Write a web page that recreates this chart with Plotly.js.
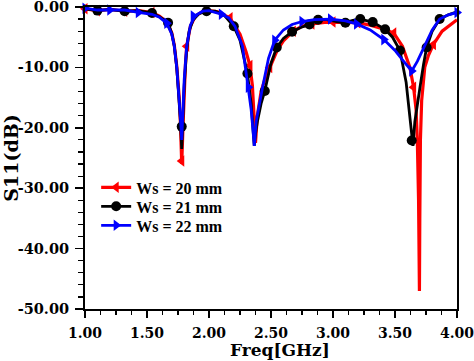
<!DOCTYPE html>
<html>
<head>
<meta charset="utf-8">
<script src="https://cdn.plot.ly/plotly-3.0.1.min.js"></script>
<style>
  html, body { margin: 0; padding: 0; background: #fff; }
  #chart { width: 474px; height: 361px; }
</style>
</head>
<body>
<div id="chart"></div>
<script>
// ---------- data ----------
const seriesNames = ["Ws = 20 mm", "Ws = 21 mm", "Ws = 22 mm"];

// Ws = 20 mm (red) full curve
const freq20 = [1.00,1.10,1.20,1.32,1.43,1.54,1.60,1.66,1.70,1.72,1.74,1.76,1.77,1.78,1.79,1.80,1.81,1.82,1.85,1.89,1.95,2.00,2.07,2.17,2.25,2.30,2.33,2.35,2.365,2.375,2.39,2.42,2.45,2.49,2.55,2.60,2.68,2.75,2.83,2.95,3.05,3.20,3.30,3.40,3.49,3.56,3.62,3.65,3.67,3.68,3.69,3.697,3.70,3.705,3.715,3.74,3.77,3.81,3.88,3.94,4.00];
const s11_20 = [-0.3,-0.6,-0.4,-0.7,-0.6,-0.9,-1.5,-2.5,-4.3,-6.3,-9.8,-15,-19.5,-26,-20,-14,-9.5,-6.5,-3.2,-1.5,-0.7,-0.6,-0.8,-1.8,-4.5,-7.5,-9.7,-13,-18,-22.5,-18,-14,-12,-10,-7.2,-5.6,-4.0,-3.2,-2.8,-2.5,-2.5,-2.6,-3.0,-3.6,-4.3,-6.5,-10,-13.3,-17,-22,-32,-47,-35,-22,-15.5,-10,-8,-6.2,-4,-3.1,-2.1];
// Ws = 20 mm markers
const mkFreq20 = [1.00,1.10,1.32,1.54,1.78,1.82,2.17,2.33,2.49,2.68,2.83,3.00,3.20,3.49,3.65,3.81];
const mkS11_20 = [-0.3,-0.6,-0.7,-0.9,-25.5,-6.5,-1.8,-9.7,-10,-4.0,-2.8,-2.5,-2.6,-4.3,-13.3,-6.2];

// Ws = 21 mm (black) full curve
const freq21 = [1.00,1.10,1.20,1.32,1.43,1.54,1.60,1.67,1.70,1.72,1.74,1.76,1.77,1.78,1.79,1.80,1.82,1.84,1.87,1.92,1.98,2.05,2.12,2.20,2.25,2.31,2.34,2.355,2.365,2.375,2.39,2.42,2.45,2.50,2.546,2.60,2.67,2.74,2.81,2.88,2.95,3.03,3.10,3.16,3.22,3.32,3.42,3.48,3.54,3.59,3.62,3.645,3.66,3.68,3.70,3.73,3.755,3.80,3.86,3.93,4.00];
const s11_21 = [-0.3,-0.6,-0.4,-0.7,-0.6,-1.0,-1.6,-2.6,-4.4,-6.4,-10,-15,-19,-23.5,-18,-13,-7,-4,-2.2,-1.1,-0.7,-0.7,-1.3,-3.2,-5.5,-11,-16,-20,-23,-21,-19,-16,-13.9,-9.3,-6.7,-5.2,-4.1,-3.4,-2.9,-2.1,-2.1,-2.4,-2.6,-2.2,-2.0,-2.5,-3.7,-5.0,-7.2,-12.5,-18,-23,-19,-16,-13.5,-9.5,-6.7,-4.0,-2.0,-1.3,-0.8];
// Ws = 21 mm markers
const mkFreq21 = [1.10,1.32,1.54,1.67,1.78,1.98,2.20,2.31,2.45,2.546,2.67,2.81,2.88,3.10,3.22,3.32,3.42,3.54,3.635,3.755,3.86];
const mkS11_21 = [-0.6,-0.7,-1.0,-2.6,-19.8,-0.7,-3.2,-11,-13.9,-6.7,-4.1,-2.9,-2.1,-2.6,-2.0,-2.5,-3.7,-7.2,-22.1,-6.7,-2.0];

// Ws = 22 mm (blue) full curve
const freq22 = [1.00,1.10,1.20,1.32,1.43,1.54,1.60,1.66,1.70,1.72,1.74,1.76,1.77,1.78,1.79,1.80,1.82,1.85,1.89,1.95,2.00,2.10,2.16,2.21,2.27,2.317,2.34,2.355,2.365,2.38,2.41,2.43,2.48,2.53,2.60,2.67,2.75,2.85,2.98,3.10,3.19,3.30,3.41,3.50,3.57,3.635,3.68,3.74,3.80,3.86,3.93,4.00];
const s11_22 = [-0.2,-0.5,-0.5,-0.5,-0.9,-1.2,-1.7,-2.7,-4.5,-6.5,-10,-15,-18.5,-22,-17,-12,-6.5,-3,-1.4,-0.7,-0.6,-1.2,-1.8,-3.2,-6.5,-13.3,-17,-20.5,-23,-19,-15.5,-13.5,-8.5,-5.5,-3.8,-2.9,-2.4,-2.1,-2.0,-2.3,-2.8,-3.8,-5.4,-7.2,-9.0,-10.6,-9.0,-6.3,-3.8,-2.0,-1.3,-0.9];
// Ws = 22 mm markers
const mkFreq22 = [1.00,1.20,1.43,1.66,1.873,2.10,2.317,2.53,2.75,2.98,3.19,3.41,3.635,4.00];
const mkS11_22 = [-0.2,-0.5,-0.9,-2.7,-1.5,-1.2,-13.3,-5.5,-2.4,-2.0,-2.8,-5.4,-10.6,-0.9];

// ticks
const xTickVals = [1.0, 1.5, 2.0, 2.5, 3.0, 3.5, 4.0];
const xTickText = ["1.00", "1.50", "2.00", "2.50", "3.00", "3.50", "4.00"];
const yTickVals = [-50, -40, -30, -20, -10, 0];
const yTickText = ["-50.00", "-40.00", "-30.00", "-20.00", "-10.00", "0.00"];
const xTitle = "Freq[GHz]";
const yTitle = "S11(dB)";

// ---------- styles ----------
const colors = ["#ff0000", "#000000", "#0000ff"];
const symbols = ["triangle-left", "circle", "triangle-right"];
const lineWidths = [3.2, 2.8, 2.8];
const legendIds = ["legend", "legend2", "legend3"];
const legendTops = [0.459, 0.396, 0.333];

const curves = [[freq20, s11_20], [freq21, s11_21], [freq22, s11_22]];
const marks = [[mkFreq20, mkS11_20], [mkFreq21, mkS11_21], [mkFreq22, mkS11_22]];

const traces = [];
for (let i = 0; i < 3; i++) {
  traces.push({
    x: curves[i][0], y: curves[i][1], type: "scatter", mode: "lines",
    line: { color: colors[i], width: lineWidths[i] },
    showlegend: false, hoverinfo: "skip"
  });
  traces.push({
    x: marks[i][0], y: marks[i][1], type: "scatter", mode: "markers",
    marker: { color: colors[i], symbol: symbols[i], size: 10, line: { width: 0 } },
    cliponaxis: false, showlegend: false, hoverinfo: "skip"
  });
}
// legend entries (one legend box per series so the row spacing matches)
for (let i = 0; i < 3; i++) {
  traces.push({
    x: [null], y: [null], type: "scatter", mode: "lines+markers",
    name: seriesNames[i], legend: legendIds[i],
    line: { color: colors[i], width: lineWidths[i] },
    marker: { color: colors[i], symbol: symbols[i], size: 10 }
  });
}

function legendBox(i) {
  return {
    x: 0.03, y: legendTops[i], xanchor: "left", yanchor: "top",
    bgcolor: "rgba(0,0,0,0)", borderwidth: 0,
    font: { family: "Liberation Serif", size: 16, weight: "bold", color: "#000" }
  };
}

const layout = {
  width: 474, height: 361,
  margin: { l: 85, r: 17, t: 7, b: 52, pad: 0 },
  paper_bgcolor: "#fff", plot_bgcolor: "#fff",
  showlegend: true,
  legend: legendBox(0),
  legend2: legendBox(1),
  legend3: legendBox(2),
  xaxis: {
    range: [1, 4], tickmode: "array", tickvals: xTickVals, ticktext: xTickText,
    ticks: "outside", ticklen: 7, tickwidth: 1.5, tickcolor: "#000",
    ticklabelstandoff: 3, ticklabeloverflow: "allow",
    minor: { ticks: "outside", dtick: 0.125, tick0: 1, ticklen: 4, tickwidth: 1.2, tickcolor: "#000", showgrid: false },
    showline: true, linecolor: "#000", linewidth: 2, mirror: true,
    showgrid: false, zeroline: false,
    tickfont: { family: "DejaVu Serif", size: 14, weight: "bold", color: "#000" }
  },
  yaxis: {
    range: [-50, 0], tickmode: "array", tickvals: yTickVals, ticktext: yTickText,
    ticks: "outside", ticklen: 8, tickwidth: 1.5, tickcolor: "#000",
    ticklabelstandoff: 3, ticklabeloverflow: "allow",
    minor: { ticks: "outside", dtick: 2, tick0: 0, ticklen: 5, tickwidth: 1.2, tickcolor: "#000", showgrid: false },
    showline: true, linecolor: "#000", linewidth: 2, mirror: true,
    showgrid: false, zeroline: false,
    tickfont: { family: "DejaVu Serif", size: 14.5, weight: "bold", color: "#000" },
    title: { text: yTitle, standoff: 0, font: { family: "DejaVu Serif", size: 19, weight: "bold", color: "#000" } }
  },
  annotations: [{
    text: xTitle, xref: "paper", yref: "paper", x: 0.524, y: 0,
    xanchor: "center", yanchor: "top", yshift: -29, showarrow: false,
    font: { family: "DejaVu Serif", size: 17, weight: "bold", color: "#000" }
  }]
};

Plotly.newPlot("chart", traces, layout, { staticPlot: true, displayModeBar: false });
</script>
</body>
</html>
